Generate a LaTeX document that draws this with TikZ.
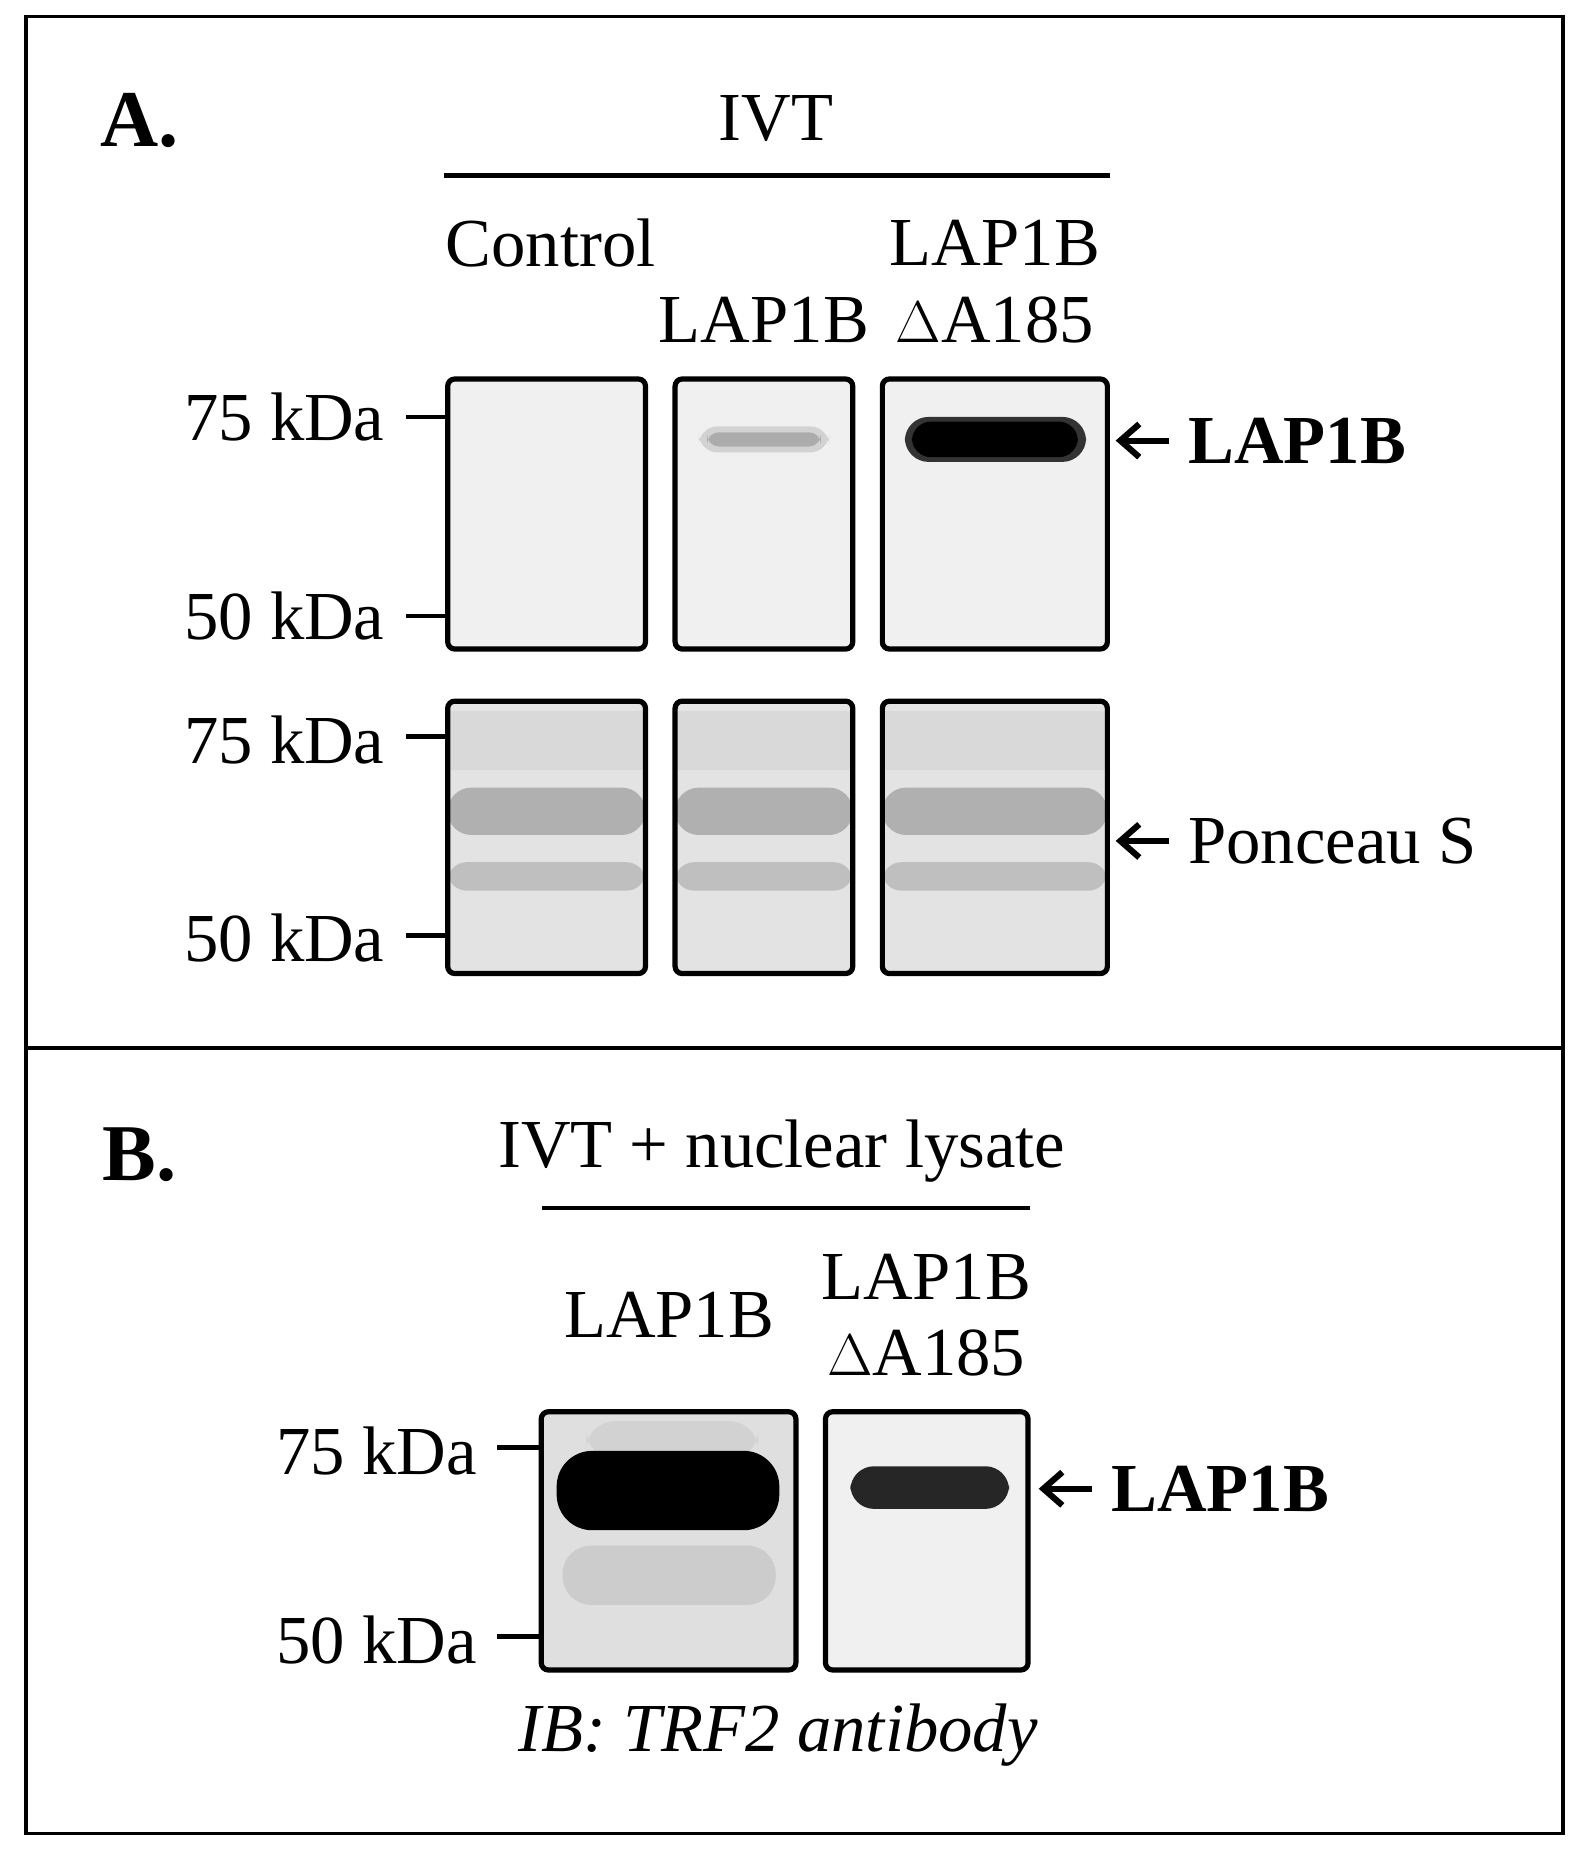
\documentclass[tikz,border=0pt]{standalone}
\usepackage{fontspec}
\setmainfont{Liberation Serif}
\usetikzlibrary{arrows.meta}
\begin{document}
\begin{tikzpicture}[x=0.5pt,y=-0.5pt,
  lbl/.style={font=\fontsize{29}{32}\selectfont,inner sep=0},
  bl/.style={font=\fontsize{29}{32}\selectfont\bfseries,inner sep=0},
  panel/.style={draw=black,line width=2.2pt,rounded corners=3pt},
  tick/.style={line width=2pt},
  arr/.style={line width=2.6pt,-{Straight Barb[length=8pt,width=14pt,line width=2.6pt]}}]
\useasboundingbox (0,0) rectangle (1340,1573);
\draw[line width=1.6pt] (22,14) rectangle (1320,1548);
\draw[line width=1.6pt] (22,885) -- (1320,885);
% A
\node[font=\fontsize{34}{36}\selectfont\bfseries,inner sep=0] (A) at (118,102) {A.};
\node[lbl] (ivt) at (655,100) {IVT};
\draw[tick] (375,148) -- (937,148);
\node[lbl] (c1) at (465,205) {Control};
\node[lbl] (c2) at (645,270) {LAP1B};
\node[lbl] (c3a) at (840,205) {LAP1B};
\node[lbl] (c3b) at (840,270) {$\Delta$A185};
% top panels
\foreach \xa/\xb/\n in {378/545/p1,570/720/p2,745/935/p3}{
  \fill[gray!12,rounded corners=3pt] (\xa,320) rectangle (\xb,548);
}
\fill[gray!35,rounded corners=8pt] (590,360) rectangle (700,382);
\fill[gray!65,rounded corners=5pt] (597,365) rectangle (693,377);
\fill[black!80,rounded corners=10pt] (764,352) rectangle (917,390);
\fill[black,rounded corners=8pt] (770,356) rectangle (910,386);
\foreach \xa/\xb/\n in {378/545/p1,570/720/p2,745/935/p3}{
  \draw[panel] (\xa,320) rectangle (\xb,548) node[coordinate] (\n) {};
}
\node[lbl,anchor=east] (m75a) at (325,352) {75 kDa};
\node[lbl,anchor=east] (m50a) at (325,520) {50 kDa};
\draw[tick] (343,352) -- (380,352);
\draw[tick] (343,520) -- (380,520);
\node[bl,anchor=west] (lapA) at (1003,372) {LAP1B};
\coordinate (lapAt) at (942,372);
\draw[arr] (lapA.west) ++(-16,0) -- (lapAt);
% Ponceau panels
\foreach \xa/\xb in {378/545,570/720,745/935}{
  \fill[gray!22,rounded corners=3pt] (\xa,592) rectangle (\xb,822);
  \fill[gray!30] (\xa,600) rectangle (\xb,650);
  \fill[gray!62,rounded corners=10pt] (\xa,665) rectangle (\xb,705);
  \fill[gray!50,rounded corners=8pt] (\xa,728) rectangle (\xb,752);
  \draw[panel] (\xa,592) rectangle (\xb,822);
}
\node[lbl,anchor=east] (m75b) at (325,625) {75 kDa};
\node[lbl,anchor=east] (m50b) at (325,792) {50 kDa};
\draw[tick] (343,622) -- (380,622);
\draw[tick] (343,790) -- (380,790);
\node[lbl,anchor=west] (pon) at (1003,710) {Ponceau S};
\coordinate (ponT) at (942,710);
\draw[arr] (pon.west) ++(-16,0) -- (ponT);
% B
\node[font=\fontsize{34}{36}\selectfont\bfseries,inner sep=0] (B) at (118,975) {B.};
\node[lbl] (ivt2) at (660,972) {IVT + nuclear lysate};
\draw[tick] (458,1020) -- (870,1020);
\node[lbl] (d1) at (565,1110) {LAP1B};
\node[lbl] (d2a) at (782,1078) {LAP1B};
\node[lbl] (d2b) at (782,1142) {$\Delta$A185};
\fill[gray!25,rounded corners=3pt] (457,1192) rectangle (672,1410);
\fill[gray!12,rounded corners=3pt] (697,1192) rectangle (868,1410);
\fill[gray!40,rounded corners=12pt] (475,1305) rectangle (655,1355);
\fill[gray!35,rounded corners=12pt] (495,1200) rectangle (640,1232);
\fill[black,rounded corners=15pt] (470,1225) rectangle (658,1292);
\fill[black!85,rounded corners=10pt] (718,1238) rectangle (852,1274);
\draw[panel] (457,1192) rectangle (672,1410);
\draw[panel] (697,1192) rectangle (868,1410);
\node[lbl,anchor=east] (m75c) at (403,1225) {75 kDa};
\node[lbl,anchor=east] (m50c) at (403,1385) {50 kDa};
\draw[tick] (420,1222) -- (457,1222);
\draw[tick] (420,1382) -- (457,1382);
\node[bl,anchor=west] (lapB) at (938,1257) {LAP1B};
\coordinate (lapBt) at (877,1257);
\draw[arr] (lapB.west) ++(-16,0) -- (lapBt);
\node[lbl,font=\fontsize{29}{32}\selectfont\itshape] (ib) at (657,1465) {IB: TRF2 antibody};
\end{tikzpicture}
\end{document}
